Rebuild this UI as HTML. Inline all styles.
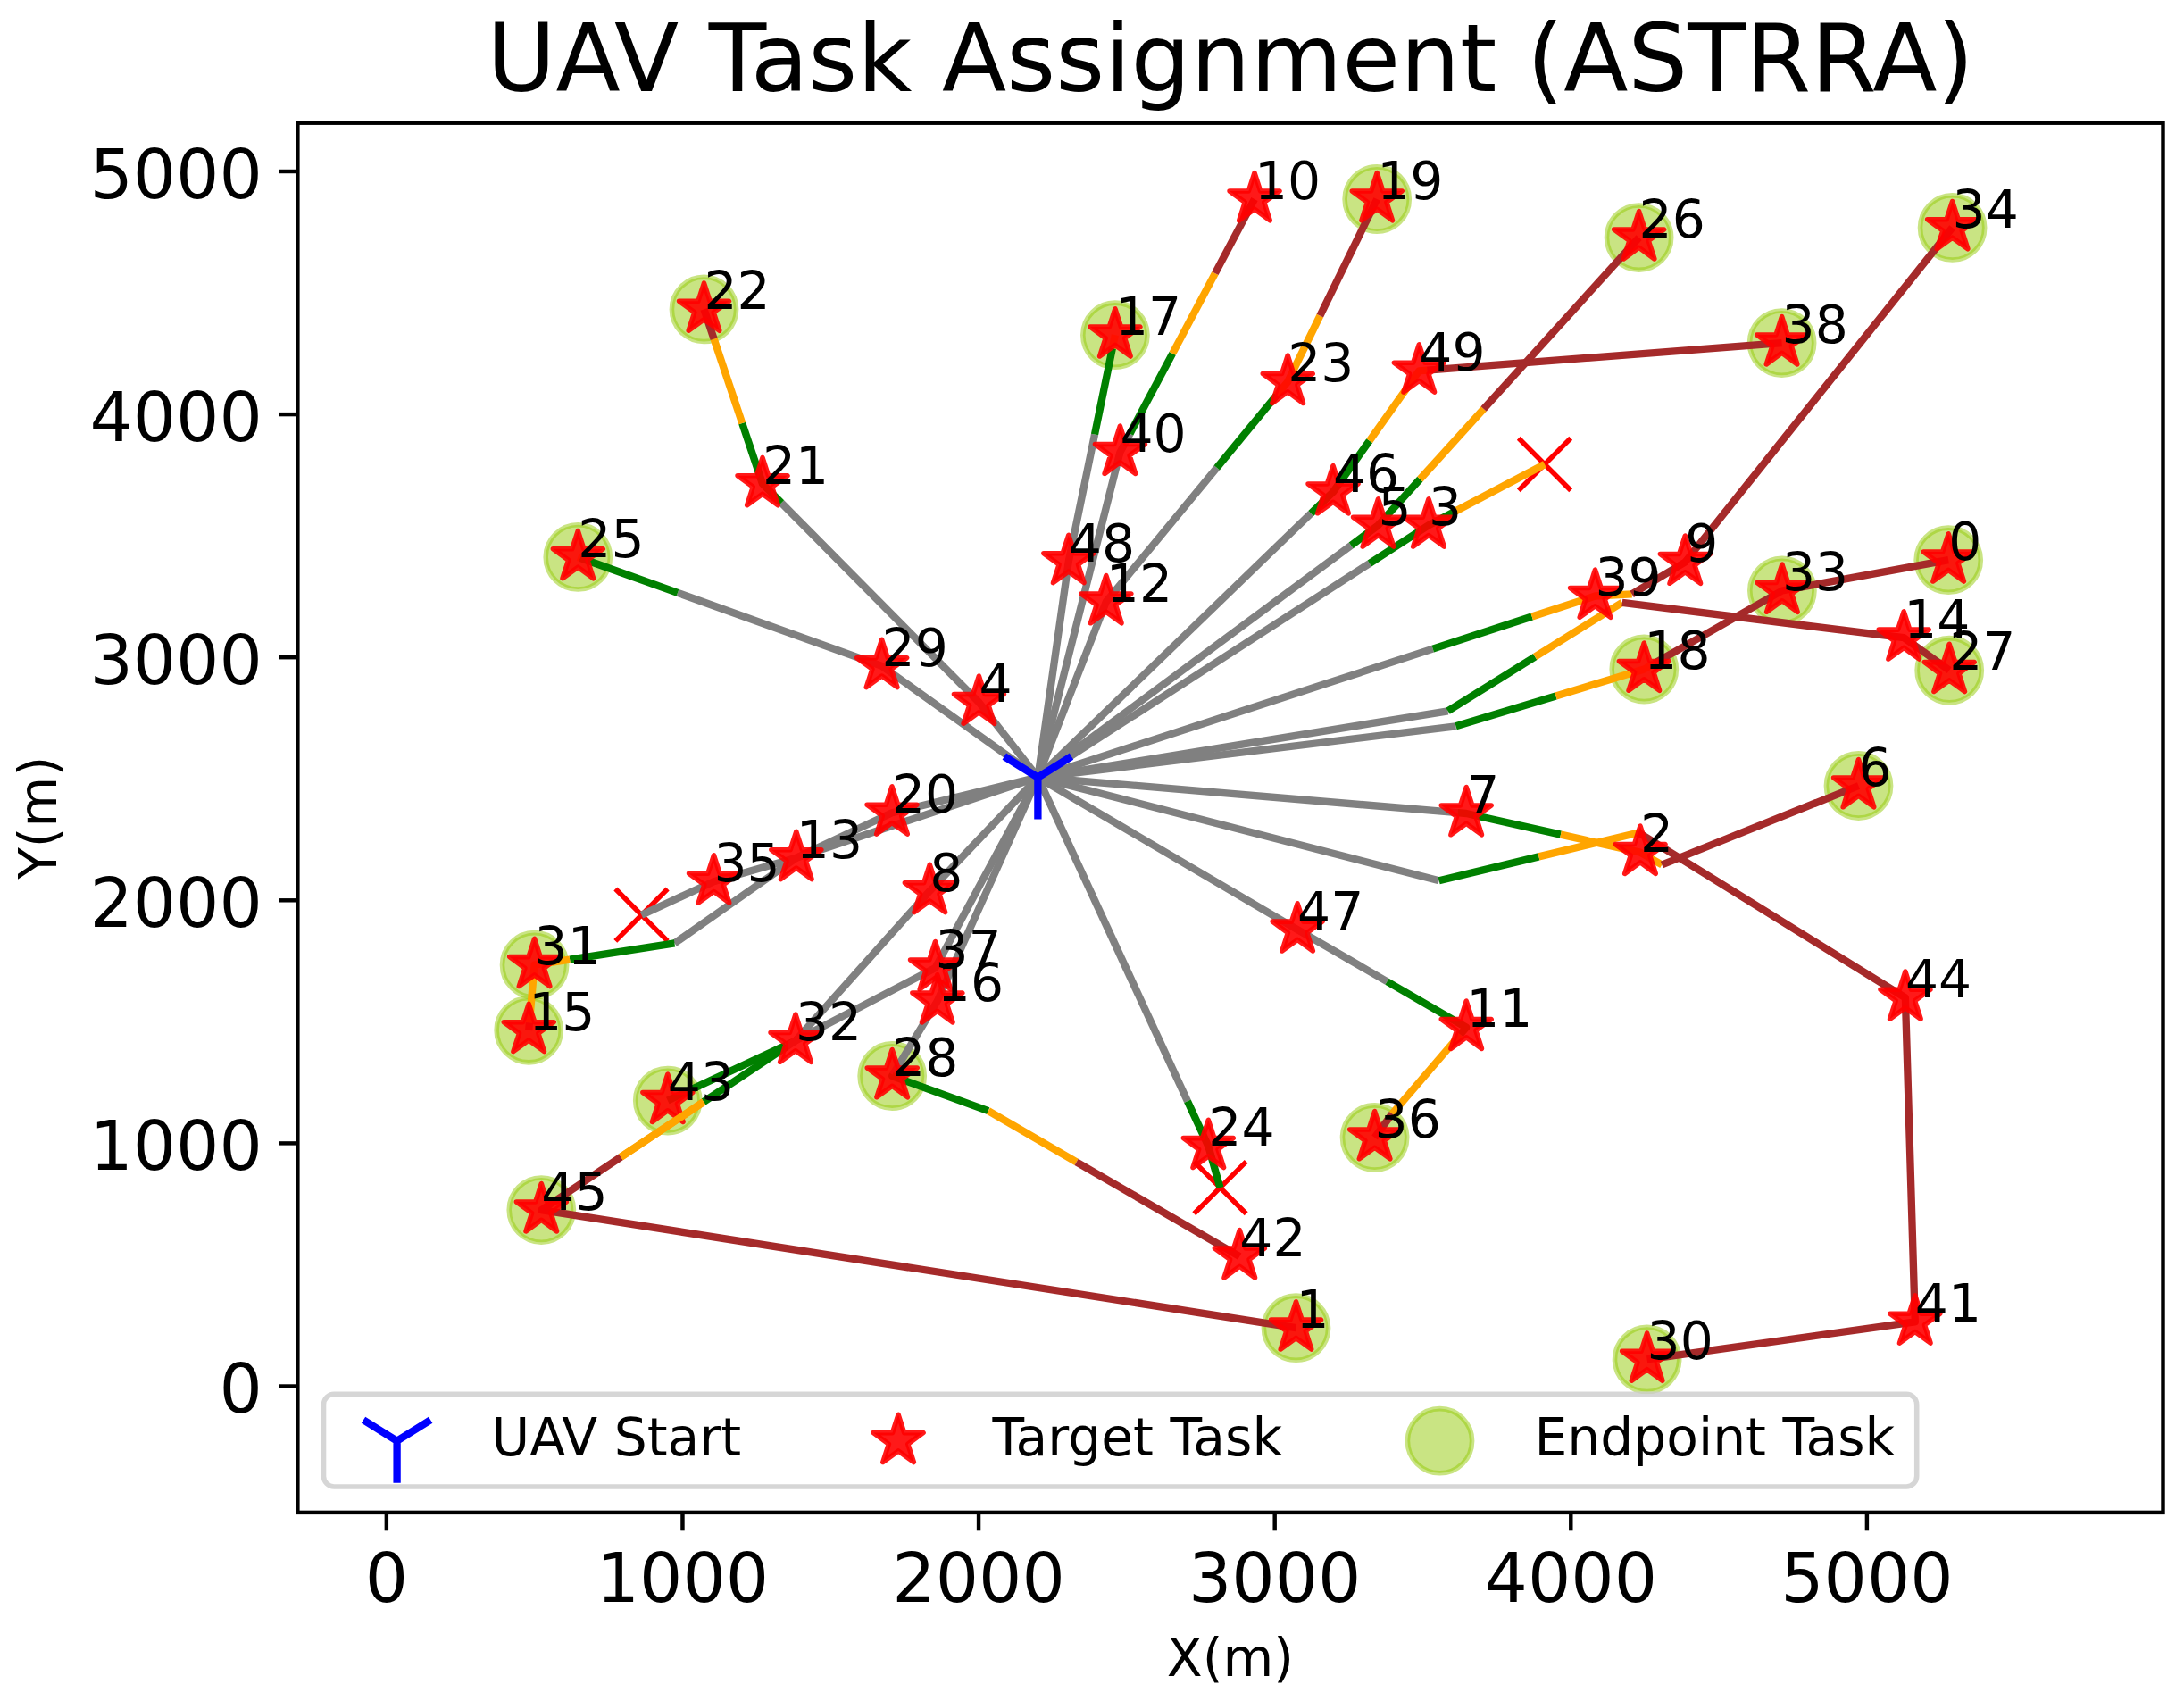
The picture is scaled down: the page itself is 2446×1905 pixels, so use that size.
<!DOCTYPE html>
<html lang="en"><head><meta charset="utf-8"><title>UAV Task Assignment (ASTRRA)</title>
<style>html,body{margin:0;padding:0;background:#fff;}svg{display:block;}text{font-family:"DejaVu Sans","Liberation Sans",sans-serif;fill:#000;}.lbl{font-size:58.3px;}.tick{font-size:76px;}.ttl{font-size:105.56px;}</style></head><body>
<svg width="2446" height="1905" viewBox="0 0 2446 1905">
<rect x="0" y="0" width="2446" height="1905" fill="#fff"/>
<g fill="#94ca08" fill-opacity="0.5" stroke="#94ca08" stroke-opacity="0.5" stroke-width="5.56">
<circle cx="788.5" cy="346.4" r="36.1"/>
<circle cx="647.3" cy="623.9" r="36.1"/>
<circle cx="1248.9" cy="375.2" r="36.1"/>
<circle cx="1542.2" cy="223" r="36.1"/>
<circle cx="1835.6" cy="266.1" r="36.1"/>
<circle cx="2186.6" cy="254.9" r="36.1"/>
<circle cx="1995.6" cy="384.1" r="36.1"/>
<circle cx="1995.9" cy="661.5" r="36.1"/>
<circle cx="2182.2" cy="627.2" r="36.1"/>
<circle cx="1841.3" cy="749.5" r="36.1"/>
<circle cx="2183.2" cy="750.7" r="36.1"/>
<circle cx="2081.5" cy="880" r="36.1"/>
<circle cx="598.6" cy="1080.7" r="36.1"/>
<circle cx="592.2" cy="1153.8" r="36.1"/>
<circle cx="747.8" cy="1232.6" r="36.1"/>
<circle cx="999.2" cy="1205" r="36.1"/>
<circle cx="606.3" cy="1355.1" r="36.1"/>
<circle cx="1539.6" cy="1274" r="36.1"/>
<circle cx="1451.5" cy="1487.2" r="36.1"/>
<circle cx="1844.6" cy="1522.4" r="36.1"/>
</g>
<g stroke="#ff0000" stroke-width="5.56" fill="none">
<path d="M1700.8 490.8L1759.2 549.2M1700.8 549.2L1759.2 490.8"/>
<path d="M689.3 995.5L747.7 1053.9M689.3 1053.9L747.7 995.5"/>
<path d="M1337.3 1300.9L1395.7 1359.3M1337.3 1359.3L1395.7 1300.9"/>
</g>
<g fill="none" stroke-width="8.33" stroke-linejoin="round" stroke-linecap="butt">
<polyline stroke="#808080" points="1162.4,870.6 987.6,745.8 758.98,663.9"/>
<polyline stroke="#008000" points="758.98,663.9 649.57,624.71"/>
<polyline stroke="#ffa500" points="649.57,624.71 647.3,623.9"/>
<polyline stroke="#808080" points="1162.4,870.6 1096.4,786.5 875.18,563.27"/>
<polyline stroke="#008000" points="875.18,563.27 854,541.9 831.25,474.01"/>
<polyline stroke="#ffa500" points="831.25,474.01 799.61,379.56"/>
<polyline stroke="#a52a2a" points="799.61,379.56 788.5,346.4"/>
<polyline stroke="#808080" points="1162.4,870.6 1196.8,628.8 1226.03,486.51"/>
<polyline stroke="#008000" points="1226.03,486.51 1245.88,389.91"/>
<polyline stroke="#ffa500" points="1245.88,389.91 1248.9,375.2"/>
<polyline stroke="#808080" points="1162.4,870.6 1254.4,506.6 1265.5,485.7"/>
<polyline stroke="#008000" points="1265.5,485.7 1313.19,395.9"/>
<polyline stroke="#ffa500" points="1313.19,395.9 1360.87,306.1"/>
<polyline stroke="#a52a2a" points="1360.87,306.1 1405,223"/>
<polyline stroke="#808080" points="1162.4,870.6 1238.8,674 1362.77,523.82"/>
<polyline stroke="#008000" points="1362.77,523.82 1429.72,442.72"/>
<polyline stroke="#ffa500" points="1429.72,442.72 1442.2,427.6 1478.35,353.63"/>
<polyline stroke="#a52a2a" points="1478.35,353.63 1542.2,223"/>
<polyline stroke="#808080" points="1162.4,870.6 1468.19,574.99"/>
<polyline stroke="#008000" points="1468.19,574.99 1493,551 1533.78,493.54"/>
<polyline stroke="#ffa500" points="1533.78,493.54 1589.3,415.3 1598.3,414.61"/>
<polyline stroke="#a52a2a" points="1598.3,414.61 1995.6,384.1"/>
<polyline stroke="#808080" points="1162.4,870.6 1513.16,610.78"/>
<polyline stroke="#008000" points="1513.16,610.78 1543.5,588.3 1590.35,536.62"/>
<polyline stroke="#ffa500" points="1590.35,536.62 1661.61,458.02"/>
<polyline stroke="#a52a2a" points="1661.61,458.02 1835.6,266.1"/>
<polyline stroke="#808080" points="1162.4,870.6 1533.88,630.95"/>
<polyline stroke="#008000" points="1533.88,630.95 1600,588.3 1629.65,572.72"/>
<polyline stroke="#ffa500" points="1629.65,572.72 1730,520"/>
<polyline stroke="#808080" points="1162.4,870.6 1604.74,726.65"/>
<polyline stroke="#008000" points="1604.74,726.65 1715.71,690.54"/>
<polyline stroke="#ffa500" points="1715.71,690.54 1786.5,667.5 1827.7,665.4"/>
<polyline stroke="#a52a2a" points="1827.7,665.4 1887.3,629.5 2186.6,254.9"/>
<polyline stroke="#808080" points="1162.4,870.6 1621.6,796.3"/>
<polyline stroke="#008000" points="1621.6,796.3 1719.2,735.55"/>
<polyline stroke="#ffa500" points="1719.2,735.55 1816.8,674.8"/>
<polyline stroke="#a52a2a" points="1816.8,674.8 2132.2,714.2 2183.2,750.7"/>
<polyline stroke="#808080" points="1162.4,870.6 1630.5,813.3"/>
<polyline stroke="#008000" points="1630.5,813.3 1742.5,779.4"/>
<polyline stroke="#ffa500" points="1742.5,779.4 1841.3,749.5 1852.87,742.92"/>
<polyline stroke="#a52a2a" points="1852.87,742.92 1995.9,661.5 2182.2,627.2"/>
<polyline stroke="#808080" points="1162.4,870.6 1632.48,910.18"/>
<polyline stroke="#008000" points="1632.48,910.18 1642.2,911 1747.94,934.67"/>
<polyline stroke="#ffa500" points="1747.94,934.67 1837,954.6 1861.3,968.5"/>
<polyline stroke="#a52a2a" points="1861.3,968.5 2081.5,880"/>
<polyline stroke="#808080" points="1162.4,870.6 1611.7,986.3"/>
<polyline stroke="#008000" points="1611.7,986.3 1723.45,959.4"/>
<polyline stroke="#ffa500" points="1723.45,959.4 1835.2,932.5"/>
<polyline stroke="#a52a2a" points="1835.2,932.5 2133.9,1117.4 2144.8,1480.3 1844.6,1522.4"/>
<polyline stroke="#808080" points="1162.4,870.6 1453.1,1041.2 1553.44,1099.25"/>
<polyline stroke="#008000" points="1553.44,1099.25 1642.2,1150.6 1635.32,1158.61"/>
<polyline stroke="#ffa500" points="1635.32,1158.61 1559.1,1247.4"/>
<polyline stroke="#a52a2a" points="1559.1,1247.4 1539.6,1274"/>
<polyline stroke="#808080" points="1162.4,870.6 1329.94,1233.15"/>
<polyline stroke="#008000" points="1329.94,1233.15 1353.3,1283.7 1366.5,1330.1"/>
<polyline stroke="#808080" points="1162.4,870.6 1049.8,1121.1 999.98,1203.71"/>
<polyline stroke="#008000" points="999.98,1203.71 999.2,1205 1106.9,1244.2"/>
<polyline stroke="#ffa500" points="1106.9,1244.2 1205.6,1301.3"/>
<polyline stroke="#a52a2a" points="1205.6,1301.3 1388.3,1407.1"/>
<polyline stroke="#808080" points="1162.4,870.6 1047.5,1084 891,1165.5 888.51,1166.67"/>
<polyline stroke="#008000" points="888.51,1166.67 747.8,1232.6"/>
<polyline stroke="#808080" points="1162.4,870.6 1041.3,997.8 891,1165.5 880.76,1172.32"/>
<polyline stroke="#008000" points="880.76,1172.32 788.07,1234.05"/>
<polyline stroke="#ffa500" points="788.07,1234.05 695.38,1295.78"/>
<polyline stroke="#a52a2a" points="695.38,1295.78 606.3,1355.1 1451.5,1487.2"/>
<polyline stroke="#808080" points="1162.4,870.6 891.8,960.8 755.5,1056.4"/>
<polyline stroke="#008000" points="755.5,1056.4 638.19,1074.57"/>
<polyline stroke="#ffa500" points="638.19,1074.57 598.6,1080.7 592.93,1145.43"/>
<polyline stroke="#a52a2a" points="592.93,1145.43 592.2,1153.8"/>
<polyline stroke="#808080" points="1162.4,870.6 999,910.3 891.8,960.8 799.5,987.3 718.5,1024.7"/>
</g>
<g fill="#ff0000" fill-opacity="0.9" stroke="#ff0000" stroke-opacity="0.9" stroke-width="5.56" stroke-linejoin="round">
<polygon points="2182.20,597.80 2175.60,618.11 2154.24,618.11 2171.52,630.67 2164.92,650.99 2182.20,638.43 2199.48,650.99 2192.88,630.67 2210.16,618.11 2188.80,618.11"/>
<polygon points="1451.50,1457.80 1444.90,1478.11 1423.54,1478.11 1440.82,1490.67 1434.22,1510.99 1451.50,1498.43 1468.78,1510.99 1462.18,1490.67 1479.46,1478.11 1458.10,1478.11"/>
<polygon points="1837.00,925.20 1830.40,945.51 1809.04,945.51 1826.32,958.07 1819.72,978.39 1837.00,965.83 1854.28,978.39 1847.68,958.07 1864.96,945.51 1843.60,945.51"/>
<polygon points="1600.00,558.90 1593.40,579.21 1572.04,579.21 1589.32,591.77 1582.72,612.09 1600.00,599.53 1617.28,612.09 1610.68,591.77 1627.96,579.21 1606.60,579.21"/>
<polygon points="1096.40,757.10 1089.80,777.41 1068.44,777.41 1085.72,789.97 1079.12,810.29 1096.40,797.73 1113.68,810.29 1107.08,789.97 1124.36,777.41 1103.00,777.41"/>
<polygon points="1543.50,558.90 1536.90,579.21 1515.54,579.21 1532.82,591.77 1526.22,612.09 1543.50,599.53 1560.78,612.09 1554.18,591.77 1571.46,579.21 1550.10,579.21"/>
<polygon points="2081.50,850.60 2074.90,870.91 2053.54,870.91 2070.82,883.47 2064.22,903.79 2081.50,891.23 2098.78,903.79 2092.18,883.47 2109.46,870.91 2088.10,870.91"/>
<polygon points="1642.20,881.60 1635.60,901.91 1614.24,901.91 1631.52,914.47 1624.92,934.79 1642.20,922.23 1659.48,934.79 1652.88,914.47 1670.16,901.91 1648.80,901.91"/>
<polygon points="1041.30,968.40 1034.70,988.71 1013.34,988.71 1030.62,1001.27 1024.02,1021.59 1041.30,1009.03 1058.58,1021.59 1051.98,1001.27 1069.26,988.71 1047.90,988.71"/>
<polygon points="1887.30,600.10 1880.70,620.41 1859.34,620.41 1876.62,632.97 1870.02,653.29 1887.30,640.73 1904.58,653.29 1897.98,632.97 1915.26,620.41 1893.90,620.41"/>
<polygon points="1405.00,193.60 1398.40,213.91 1377.04,213.91 1394.32,226.47 1387.72,246.79 1405.00,234.23 1422.28,246.79 1415.68,226.47 1432.96,213.91 1411.60,213.91"/>
<polygon points="1642.20,1121.20 1635.60,1141.51 1614.24,1141.51 1631.52,1154.07 1624.92,1174.39 1642.20,1161.83 1659.48,1174.39 1652.88,1154.07 1670.16,1141.51 1648.80,1141.51"/>
<polygon points="1238.80,644.60 1232.20,664.91 1210.84,664.91 1228.12,677.47 1221.52,697.79 1238.80,685.23 1256.08,697.79 1249.48,677.47 1266.76,664.91 1245.40,664.91"/>
<polygon points="891.80,931.40 885.20,951.71 863.84,951.71 881.12,964.27 874.52,984.59 891.80,972.03 909.08,984.59 902.48,964.27 919.76,951.71 898.40,951.71"/>
<polygon points="2132.20,684.80 2125.60,705.11 2104.24,705.11 2121.52,717.67 2114.92,737.99 2132.20,725.43 2149.48,737.99 2142.88,717.67 2160.16,705.11 2138.80,705.11"/>
<polygon points="592.20,1124.40 585.60,1144.71 564.24,1144.71 581.52,1157.27 574.92,1177.59 592.20,1165.03 609.48,1177.59 602.88,1157.27 620.16,1144.71 598.80,1144.71"/>
<polygon points="1049.80,1091.70 1043.20,1112.01 1021.84,1112.01 1039.12,1124.57 1032.52,1144.89 1049.80,1132.33 1067.08,1144.89 1060.48,1124.57 1077.76,1112.01 1056.40,1112.01"/>
<polygon points="1248.90,345.80 1242.30,366.11 1220.94,366.11 1238.22,378.67 1231.62,398.99 1248.90,386.43 1266.18,398.99 1259.58,378.67 1276.86,366.11 1255.50,366.11"/>
<polygon points="1841.30,720.10 1834.70,740.41 1813.34,740.41 1830.62,752.97 1824.02,773.29 1841.30,760.73 1858.58,773.29 1851.98,752.97 1869.26,740.41 1847.90,740.41"/>
<polygon points="1542.20,193.60 1535.60,213.91 1514.24,213.91 1531.52,226.47 1524.92,246.79 1542.20,234.23 1559.48,246.79 1552.88,226.47 1570.16,213.91 1548.80,213.91"/>
<polygon points="999.00,880.90 992.40,901.21 971.04,901.21 988.32,913.77 981.72,934.09 999.00,921.53 1016.28,934.09 1009.68,913.77 1026.96,901.21 1005.60,901.21"/>
<polygon points="854.00,512.50 847.40,532.81 826.04,532.81 843.32,545.37 836.72,565.69 854.00,553.13 871.28,565.69 864.68,545.37 881.96,532.81 860.60,532.81"/>
<polygon points="788.50,317.00 781.90,337.31 760.54,337.31 777.82,349.87 771.22,370.19 788.50,357.63 805.78,370.19 799.18,349.87 816.46,337.31 795.10,337.31"/>
<polygon points="1442.20,398.20 1435.60,418.51 1414.24,418.51 1431.52,431.07 1424.92,451.39 1442.20,438.83 1459.48,451.39 1452.88,431.07 1470.16,418.51 1448.80,418.51"/>
<polygon points="1353.30,1254.30 1346.70,1274.61 1325.34,1274.61 1342.62,1287.17 1336.02,1307.49 1353.30,1294.93 1370.58,1307.49 1363.98,1287.17 1381.26,1274.61 1359.90,1274.61"/>
<polygon points="647.30,594.50 640.70,614.81 619.34,614.81 636.62,627.37 630.02,647.69 647.30,635.13 664.58,647.69 657.98,627.37 675.26,614.81 653.90,614.81"/>
<polygon points="1835.60,236.70 1829.00,257.01 1807.64,257.01 1824.92,269.57 1818.32,289.89 1835.60,277.33 1852.88,289.89 1846.28,269.57 1863.56,257.01 1842.20,257.01"/>
<polygon points="2183.20,721.30 2176.60,741.61 2155.24,741.61 2172.52,754.17 2165.92,774.49 2183.20,761.93 2200.48,774.49 2193.88,754.17 2211.16,741.61 2189.80,741.61"/>
<polygon points="999.20,1175.60 992.60,1195.91 971.24,1195.91 988.52,1208.47 981.92,1228.79 999.20,1216.23 1016.48,1228.79 1009.88,1208.47 1027.16,1195.91 1005.80,1195.91"/>
<polygon points="987.60,716.40 981.00,736.71 959.64,736.71 976.92,749.27 970.32,769.59 987.60,757.03 1004.88,769.59 998.28,749.27 1015.56,736.71 994.20,736.71"/>
<polygon points="1844.60,1493.00 1838.00,1513.31 1816.64,1513.31 1833.92,1525.87 1827.32,1546.19 1844.60,1533.63 1861.88,1546.19 1855.28,1525.87 1872.56,1513.31 1851.20,1513.31"/>
<polygon points="598.60,1051.30 592.00,1071.61 570.64,1071.61 587.92,1084.17 581.32,1104.49 598.60,1091.93 615.88,1104.49 609.28,1084.17 626.56,1071.61 605.20,1071.61"/>
<polygon points="891.00,1136.10 884.40,1156.41 863.04,1156.41 880.32,1168.97 873.72,1189.29 891.00,1176.73 908.28,1189.29 901.68,1168.97 918.96,1156.41 897.60,1156.41"/>
<polygon points="1995.90,632.10 1989.30,652.41 1967.94,652.41 1985.22,664.97 1978.62,685.29 1995.90,672.73 2013.18,685.29 2006.58,664.97 2023.86,652.41 2002.50,652.41"/>
<polygon points="2186.60,225.50 2180.00,245.81 2158.64,245.81 2175.92,258.37 2169.32,278.69 2186.60,266.13 2203.88,278.69 2197.28,258.37 2214.56,245.81 2193.20,245.81"/>
<polygon points="799.50,957.90 792.90,978.21 771.54,978.21 788.82,990.77 782.22,1011.09 799.50,998.53 816.78,1011.09 810.18,990.77 827.46,978.21 806.10,978.21"/>
<polygon points="1539.60,1244.60 1533.00,1264.91 1511.64,1264.91 1528.92,1277.47 1522.32,1297.79 1539.60,1285.23 1556.88,1297.79 1550.28,1277.47 1567.56,1264.91 1546.20,1264.91"/>
<polygon points="1047.50,1054.60 1040.90,1074.91 1019.54,1074.91 1036.82,1087.47 1030.22,1107.79 1047.50,1095.23 1064.78,1107.79 1058.18,1087.47 1075.46,1074.91 1054.10,1074.91"/>
<polygon points="1995.60,354.70 1989.00,375.01 1967.64,375.01 1984.92,387.57 1978.32,407.89 1995.60,395.33 2012.88,407.89 2006.28,387.57 2023.56,375.01 2002.20,375.01"/>
<polygon points="1786.50,638.10 1779.90,658.41 1758.54,658.41 1775.82,670.97 1769.22,691.29 1786.50,678.73 1803.78,691.29 1797.18,670.97 1814.46,658.41 1793.10,658.41"/>
<polygon points="1254.40,477.20 1247.80,497.51 1226.44,497.51 1243.72,510.07 1237.12,530.39 1254.40,517.83 1271.68,530.39 1265.08,510.07 1282.36,497.51 1261.00,497.51"/>
<polygon points="2144.80,1450.90 2138.20,1471.21 2116.84,1471.21 2134.12,1483.77 2127.52,1504.09 2144.80,1491.53 2162.08,1504.09 2155.48,1483.77 2172.76,1471.21 2151.40,1471.21"/>
<polygon points="1388.30,1377.70 1381.70,1398.01 1360.34,1398.01 1377.62,1410.57 1371.02,1430.89 1388.30,1418.33 1405.58,1430.89 1398.98,1410.57 1416.26,1398.01 1394.90,1398.01"/>
<polygon points="747.80,1203.20 741.20,1223.51 719.84,1223.51 737.12,1236.07 730.52,1256.39 747.80,1243.83 765.08,1256.39 758.48,1236.07 775.76,1223.51 754.40,1223.51"/>
<polygon points="2133.90,1088.00 2127.30,1108.31 2105.94,1108.31 2123.22,1120.87 2116.62,1141.19 2133.90,1128.63 2151.18,1141.19 2144.58,1120.87 2161.86,1108.31 2140.50,1108.31"/>
<polygon points="606.30,1325.70 599.70,1346.01 578.34,1346.01 595.62,1358.57 589.02,1378.89 606.30,1366.33 623.58,1378.89 616.98,1358.57 634.26,1346.01 612.90,1346.01"/>
<polygon points="1493.00,521.60 1486.40,541.91 1465.04,541.91 1482.32,554.47 1475.72,574.79 1493.00,562.23 1510.28,574.79 1503.68,554.47 1520.96,541.91 1499.60,541.91"/>
<polygon points="1453.10,1011.80 1446.50,1032.11 1425.14,1032.11 1442.42,1044.67 1435.82,1064.99 1453.10,1052.43 1470.38,1064.99 1463.78,1044.67 1481.06,1032.11 1459.70,1032.11"/>
<polygon points="1196.80,599.40 1190.20,619.71 1168.84,619.71 1186.12,632.27 1179.52,652.59 1196.80,640.03 1214.08,652.59 1207.48,632.27 1224.76,619.71 1203.40,619.71"/>
<polygon points="1589.30,385.90 1582.70,406.21 1561.34,406.21 1578.62,418.77 1572.02,439.09 1589.30,426.53 1606.58,439.09 1599.98,418.77 1617.26,406.21 1595.90,406.21"/>
</g>
<g fill="none" stroke-width="8.33" stroke-linecap="butt">
<polyline stroke="#ffa500" points="788.07,1234.05 695.38,1295.78"/>
</g>
<path d="M1162.4 870.6L1162.4 917.6M1162.4 870.6L1200 847.1M1162.4 870.6L1124.8 847.1" stroke="#0000ff" stroke-width="8.33" fill="none"/>
<g class="lbl">
<text x="2182.2" y="626.9">0</text>
<text x="1451.5" y="1486.9">1</text>
<text x="1837" y="954.3">2</text>
<text x="1600" y="588">3</text>
<text x="1096.4" y="786.2">4</text>
<text x="1543.5" y="588">5</text>
<text x="2081.5" y="879.7">6</text>
<text x="1642.2" y="910.7">7</text>
<text x="1041.3" y="997.5">8</text>
<text x="1887.3" y="629.2">9</text>
<text x="1405" y="222.7">10</text>
<text x="1642.2" y="1150.3">11</text>
<text x="1238.8" y="673.7">12</text>
<text x="891.8" y="960.5">13</text>
<text x="2132.2" y="713.9">14</text>
<text x="592.2" y="1153.5">15</text>
<text x="1049.8" y="1120.8">16</text>
<text x="1248.9" y="374.9">17</text>
<text x="1841.3" y="749.2">18</text>
<text x="1542.2" y="222.7">19</text>
<text x="999" y="910">20</text>
<text x="854" y="541.6">21</text>
<text x="788.5" y="346.1">22</text>
<text x="1442.2" y="427.3">23</text>
<text x="1353.3" y="1283.4">24</text>
<text x="647.3" y="623.6">25</text>
<text x="1835.6" y="265.8">26</text>
<text x="2183.2" y="750.4">27</text>
<text x="999.2" y="1204.7">28</text>
<text x="987.6" y="745.5">29</text>
<text x="1844.6" y="1522.1">30</text>
<text x="598.6" y="1080.4">31</text>
<text x="891" y="1165.2">32</text>
<text x="1995.9" y="661.2">33</text>
<text x="2186.6" y="254.6">34</text>
<text x="799.5" y="987">35</text>
<text x="1539.6" y="1273.7">36</text>
<text x="1047.5" y="1083.7">37</text>
<text x="1995.6" y="383.8">38</text>
<text x="1786.5" y="667.2">39</text>
<text x="1254.4" y="506.3">40</text>
<text x="2144.8" y="1480">41</text>
<text x="1388.3" y="1406.8">42</text>
<text x="747.8" y="1232.3">43</text>
<text x="2133.9" y="1117.1">44</text>
<text x="606.3" y="1354.8">45</text>
<text x="1493" y="550.7">46</text>
<text x="1453.1" y="1040.9">47</text>
<text x="1196.8" y="628.5">48</text>
<text x="1589.3" y="415">49</text>
</g>
<rect x="362.5" y="1561.3" width="1784.2" height="103.7" rx="11.7" ry="11.7" fill="#fff" fill-opacity="0.8" stroke="#cccccc" stroke-opacity="0.8" stroke-width="5.56"/>
<path d="M444.6 1613.7L444.6 1660.7M444.6 1613.7L482.2 1590.2M444.6 1613.7L407 1590.2" stroke="#0000ff" stroke-width="8.33" fill="none"/>
<polygon points="1006.10,1584.30 999.50,1604.61 978.14,1604.61 995.42,1617.17 988.82,1637.49 1006.10,1624.93 1023.38,1637.49 1016.78,1617.17 1034.06,1604.61 1012.70,1604.61" fill="#ff0000" fill-opacity="0.9" stroke="#ff0000" stroke-opacity="0.9" stroke-width="5.56" stroke-linejoin="round"/>
<circle cx="1612.5" cy="1613.7" r="36.1" fill="#94ca08" fill-opacity="0.5" stroke="#94ca08" stroke-opacity="0.5" stroke-width="5.56"/>
<g class="lbl">
<text x="550.5" y="1630.3">UAV Start</text>
<text x="1111.5" y="1630.3">Target Task</text>
<text x="1718.5" y="1630.3">Endpoint Task</text>
</g>
<rect x="333.37" y="137.7" width="2089.13" height="1556.2" fill="none" stroke="#000" stroke-width="4.44"/>
<g stroke="#000" stroke-width="4.44">
<line x1="432.85" y1="1693.9" x2="432.85" y2="1714.3"/>
<line x1="333.37" y1="1552.5" x2="312.97" y2="1552.5"/>
<line x1="764.46" y1="1693.9" x2="764.46" y2="1714.3"/>
<line x1="333.37" y1="1280.4" x2="312.97" y2="1280.4"/>
<line x1="1096.07" y1="1693.9" x2="1096.07" y2="1714.3"/>
<line x1="333.37" y1="1008.3" x2="312.97" y2="1008.3"/>
<line x1="1427.68" y1="1693.9" x2="1427.68" y2="1714.3"/>
<line x1="333.37" y1="736.2" x2="312.97" y2="736.2"/>
<line x1="1759.29" y1="1693.9" x2="1759.29" y2="1714.3"/>
<line x1="333.37" y1="464.1" x2="312.97" y2="464.1"/>
<line x1="2090.9" y1="1693.9" x2="2090.9" y2="1714.3"/>
<line x1="333.37" y1="192" x2="312.97" y2="192"/>
</g>
<g class="tick">
<text x="432.85" y="1793.5" text-anchor="middle">0</text>
<text x="764.46" y="1793.5" text-anchor="middle">1000</text>
<text x="1096.07" y="1793.5" text-anchor="middle">2000</text>
<text x="1427.68" y="1793.5" text-anchor="middle">3000</text>
<text x="1759.29" y="1793.5" text-anchor="middle">4000</text>
<text x="2090.9" y="1793.5" text-anchor="middle">5000</text>
<text x="293.8" y="1582.1" text-anchor="end">0</text>
<text x="293.8" y="1310" text-anchor="end">1000</text>
<text x="293.8" y="1037.9" text-anchor="end">2000</text>
<text x="293.8" y="765.8" text-anchor="end">3000</text>
<text x="293.8" y="493.7" text-anchor="end">4000</text>
<text x="293.8" y="221.6" text-anchor="end">5000</text>
</g>
<text class="lbl" x="1377.93" y="1876.6" text-anchor="middle">X(m)</text>
<text class="lbl" transform="translate(63,915.8) rotate(-90)" text-anchor="middle">Y(m)</text>
<text class="ttl" x="1377.93" y="101.8" text-anchor="middle">UAV Task Assignment (ASTRRA)</text>
</svg></body></html>
